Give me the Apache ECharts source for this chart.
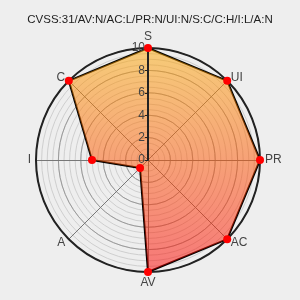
<!DOCTYPE html>
<html>
<head>
<meta charset="utf-8">
<script src="https://cdn.jsdelivr.net/npm/echarts@6/dist/echarts.min.js"></script>
<style>
html,body{margin:0;padding:0;background:#eeeeee;}
#c{width:300px;height:300px;}
</style>
</head>
<body>
<div id="c"></div>
<script>
// Data (clockwise from top)
var titleText = 'CVSS:31/AV:N/AC:L/PR:N/UI:N/S:C/C:H/I:L/A:N';
var categories = ['S', 'UI', 'PR', 'AC', 'AV', 'A', 'I', 'C'];
var values = [10, 10, 10, 10, 10, 1, 5, 10];
var axisMax = 10;
var tickLabels = [0, 2, 4, 6, 8, 10];

// ECharts radar goes counterclockwise: reorder to keep clockwise layout
var order = [0];
for (var i = categories.length - 1; i >= 1; i--) order.push(i);
var ordCats = order.map(function (k) { return categories[k]; });
var ordVals = order.map(function (k) { return values[k]; });

var center = [148, 160];
var radius = 112;
var FONT = 'Liberation Sans, Arial, sans-serif';

function indicators(extraFirst) {
  return ordCats.map(function (c, idx) {
    var o = { name: c, min: 0, max: axisMax };
    if (idx === 0 && extraFirst) {
      for (var k in extraFirst) o[k] = extraFirst[k];
    }
    return o;
  });
}

var chart = echarts.init(document.getElementById('c'), null, { renderer: 'canvas' });
chart.setOption({
  backgroundColor: '#eeeeee',
  animation: false,
  title: {
    text: titleText,
    left: 'center',
    top: 9,
    textStyle: { fontSize: 11.5, fontWeight: 'normal', color: '#222', fontFamily: FONT }
  },
  radar: [
    {
      // fine rings
      center: center, radius: radius, shape: 'circle', z: 0,
      splitNumber: 20,
      indicator: indicators(),
      axisName: { show: false },
      axisLine: { show: false },
      splitArea: { show: false },
      splitLine: { lineStyle: { color: '#cfcfcf', width: 1 } }
    },
    {
      // major rings, spokes, names
      center: center, radius: radius, shape: 'circle', z: 1,
      splitNumber: tickLabels.length - 1,
      indicator: indicators(),
      nameGap: 5,
      axisName: { color: '#444', fontSize: 12, fontFamily: FONT },
      axisLine: { lineStyle: { color: '#777', width: 1 } },
      splitArea: { show: false },
      splitLine: { lineStyle: { color: '#9a9a9a', width: 1 } }
    },
    {
      // outer circle + S axis with labels, drawn above fill
      center: center, radius: radius, shape: 'circle', z: 5,
      splitNumber: tickLabels.length - 1,
      indicator: indicators({
        axisLine: { show: true, lineStyle: { color: '#222', width: 2 } },
        axisTick: { show: true, length: 3, lineStyle: { color: '#222', width: 1 } },
        axisLabel: { show: true, color: '#444', fontSize: 12, margin: 3, fontFamily: FONT }
      }),
      axisName: { show: false },
      axisLine: { show: false },
      axisTick: { show: false },
      axisLabel: { show: false },
      splitArea: { show: false },
      splitLine: { lineStyle: { color: ['rgba(0,0,0,0)', 'rgba(0,0,0,0)', 'rgba(0,0,0,0)', 'rgba(0,0,0,0)', 'rgba(0,0,0,0)', '#222'], width: 2 } }
    }
  ],
  series: [
    {
      type: 'radar', radarIndex: 1, z: 2,
      symbol: 'none',
      lineStyle: { color: '#000', width: 2 },
      areaStyle: {
        color: new echarts.graphic.LinearGradient(0, 0, 0, 1, [
          { offset: 0, color: 'rgba(255,170,0,0.5)' },
          { offset: 1, color: 'rgba(255,0,0,0.5)' }
        ]),
        opacity: 1
      },
      data: [{ value: ordVals }]
    },
    {
      type: 'radar', radarIndex: 1, z: 10,
      symbol: 'circle', symbolSize: 8,
      itemStyle: { color: '#ff0000' },
      lineStyle: { opacity: 0 },
      data: [{ value: ordVals }]
    }
  ]
});
</script>
</body>
</html>
